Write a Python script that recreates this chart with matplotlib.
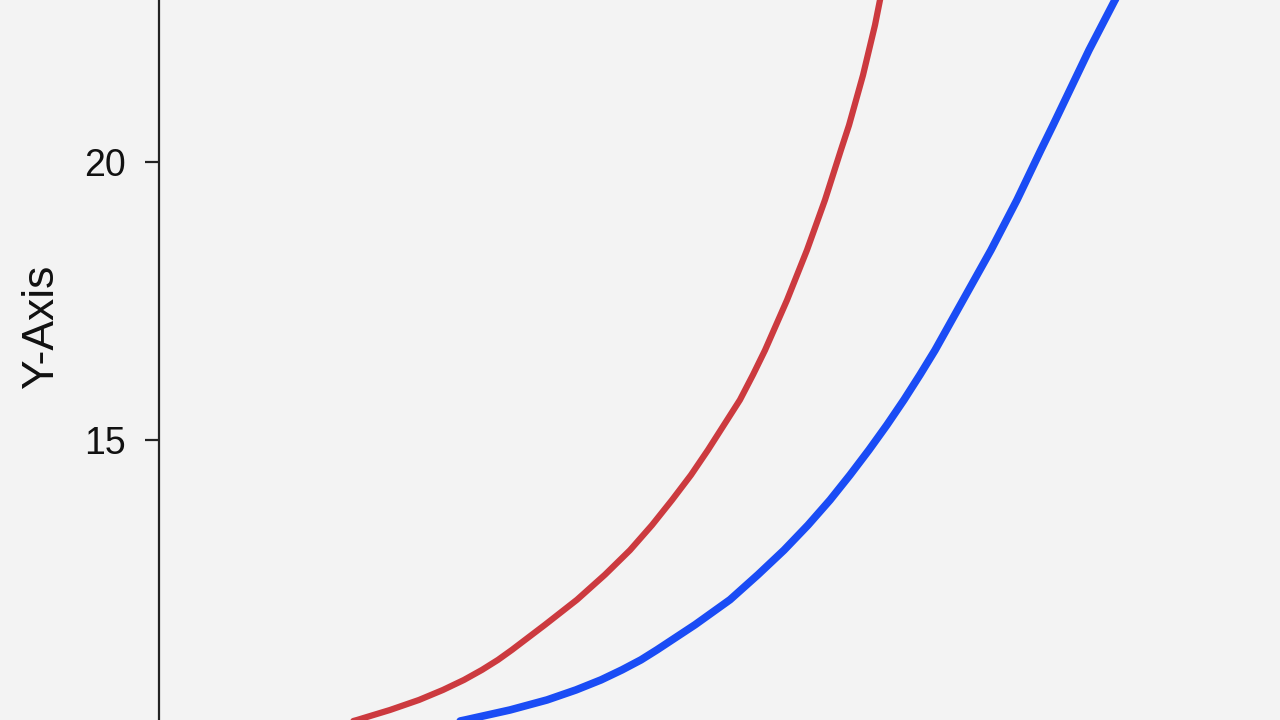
import numpy as np
from matplotlib import pyplot as plt

# values
y_vals = [9.62, 9.98, 10.16, 10.34, 10.52, 10.70, 10.88, 11.06, 11.24, 11.69, 12.14,
          12.59, 13.03, 13.48, 13.93, 14.38, 14.83, 15.28, 15.73, 16.18, 16.62,
          17.07, 17.52, 17.97, 18.42, 18.87, 19.32, 19.77, 20.22, 20.66, 21.11,
          21.56, 22.01, 22.46, 22.91, 23.27]

red_x = [1.25, 1.98, 2.31, 2.60, 2.84, 3.05, 3.23, 3.39, 3.53, 3.86, 4.18,
         4.46, 4.71, 4.93, 5.13, 5.32, 5.49, 5.65, 5.81, 5.94, 6.06,
         6.17, 6.28, 6.38, 6.48, 6.57, 6.66, 6.74, 6.82, 6.90, 6.97,
         7.04, 7.10, 7.16, 7.21, 7.26]

blue_x = [2.10, 3.06, 3.51, 3.88, 4.17, 4.42, 4.63, 4.82, 4.98, 5.36, 5.71,
          5.99, 6.25, 6.49, 6.71, 6.91, 7.10, 7.28, 7.45, 7.61, 7.76,
          7.90, 8.04, 8.18, 8.32, 8.45, 8.58, 8.70, 8.82, 8.94, 9.06,
          9.18, 9.30, 9.43, 9.56, 9.69]

y_ticks = [15, 20]
y_label = 'Y-Axis'

bg = '#f3f3f3'
plt.rcParams['font.family'] = ['Liberation Sans', 'DejaVu Sans']

fig = plt.figure(figsize=(12.8, 7.2), dpi=100, facecolor=bg)
ax = fig.add_axes([159 / 1280, 0, 1121 / 1280, 1])
ax.set_facecolor(bg)

ax.plot(red_x, y_vals, color='#cc3a3f', lw=4.5, solid_capstyle='round', solid_joinstyle='round')
ax.plot(blue_x, y_vals, color='#1a4cf5', lw=5.5, solid_capstyle='round', solid_joinstyle='round')

ax.set_xlim(0, 11.21)
ax.set_ylim(9.98, 22.91)
ax.set_yticks(y_ticks)
ax.set_xticks([])

for s in ['top', 'right', 'bottom']:
    ax.spines[s].set_visible(False)
ax.spines['left'].set_linewidth(1.6)
ax.spines['left'].set_color('#222222')
ax.tick_params(axis='y', length=10, width=1.6, color='#222222', pad=14,
               labelsize=27, labelcolor='#111111')

fig.text(42 / 1280, 1 - 327 / 720, y_label, rotation=90, ha='center', va='center',
         fontsize=32, color='#111111')

fig.savefig('out.png', dpi=100, facecolor=bg)
